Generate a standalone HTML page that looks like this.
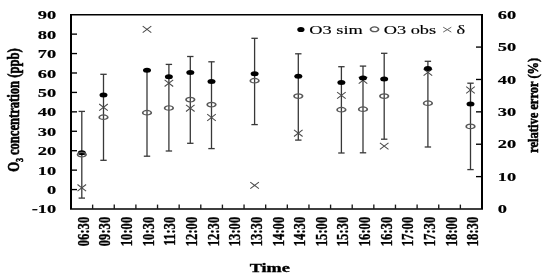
<!DOCTYPE html><html><head><meta charset="utf-8"><style>html,body{margin:0;padding:0;background:#fff;}svg{display:block;filter:blur(0.25px)}</style></head><body>
<svg width="550" height="280" viewBox="0 0 550 280">
<rect width="550" height="280" fill="#fff"/>
<path fill="#000" fill-rule="evenodd" d="M70 13.9H483V209.8H70Z M72 15.5V208.2H481V15.5Z"/>
<g stroke="#000" stroke-width="1.35" fill="none">
<line x1="71" y1="189.57" x2="77" y2="189.57"/>
<line x1="71" y1="170.14" x2="77" y2="170.14"/>
<line x1="71" y1="150.71" x2="77" y2="150.71"/>
<line x1="71" y1="131.28" x2="77" y2="131.28"/>
<line x1="71" y1="111.85" x2="77" y2="111.85"/>
<line x1="71" y1="92.42" x2="77" y2="92.42"/>
<line x1="71" y1="72.99" x2="77" y2="72.99"/>
<line x1="71" y1="53.56" x2="77" y2="53.56"/>
<line x1="71" y1="34.13" x2="77" y2="34.13"/>
<line x1="476" y1="176.62" x2="482" y2="176.62"/>
<line x1="476" y1="144.23" x2="482" y2="144.23"/>
<line x1="476" y1="111.85" x2="482" y2="111.85"/>
<line x1="476" y1="79.47" x2="482" y2="79.47"/>
<line x1="476" y1="47.08" x2="482" y2="47.08"/>
</g><g stroke="#1a1a1a" stroke-width="1.35" fill="none">
<line x1="92.63" y1="204.6" x2="92.63" y2="209"/>
<line x1="114.26" y1="204.6" x2="114.26" y2="209"/>
<line x1="135.89" y1="204.6" x2="135.89" y2="209"/>
<line x1="157.53" y1="204.6" x2="157.53" y2="209"/>
<line x1="179.16" y1="204.6" x2="179.16" y2="209"/>
<line x1="200.79" y1="204.6" x2="200.79" y2="209"/>
<line x1="222.42" y1="204.6" x2="222.42" y2="209"/>
<line x1="244.05" y1="204.6" x2="244.05" y2="209"/>
<line x1="265.68" y1="204.6" x2="265.68" y2="209"/>
<line x1="287.32" y1="204.6" x2="287.32" y2="209"/>
<line x1="308.95" y1="204.6" x2="308.95" y2="209"/>
<line x1="330.58" y1="204.6" x2="330.58" y2="209"/>
<line x1="352.21" y1="204.6" x2="352.21" y2="209"/>
<line x1="373.84" y1="204.6" x2="373.84" y2="209"/>
<line x1="395.47" y1="204.6" x2="395.47" y2="209"/>
<line x1="417.11" y1="204.6" x2="417.11" y2="209"/>
<line x1="438.74" y1="204.6" x2="438.74" y2="209"/>
<line x1="460.37" y1="204.6" x2="460.37" y2="209"/>
</g>
<g>
<g stroke="#383838" stroke-width="1.3"><line x1="81.8" y1="111.4" x2="81.8" y2="198.1"/><line x1="78.6" y1="111.4" x2="85" y2="111.4"/><line x1="78.6" y1="198.1" x2="85" y2="198.1"/></g>
<g stroke="#383838" stroke-width="1.3"><line x1="103.5" y1="74.3" x2="103.5" y2="160.3"/><line x1="100.3" y1="74.3" x2="106.7" y2="74.3"/><line x1="100.3" y1="160.3" x2="106.7" y2="160.3"/></g>
<g stroke="#383838" stroke-width="1.3"><line x1="147" y1="70.2" x2="147" y2="156.2"/><line x1="143.8" y1="70.2" x2="150.2" y2="70.2"/><line x1="143.8" y1="156.2" x2="150.2" y2="156.2"/></g>
<g stroke="#383838" stroke-width="1.3"><line x1="168.9" y1="64.4" x2="168.9" y2="151"/><line x1="165.7" y1="64.4" x2="172.1" y2="64.4"/><line x1="165.7" y1="151" x2="172.1" y2="151"/></g>
<g stroke="#383838" stroke-width="1.3"><line x1="190.3" y1="56.5" x2="190.3" y2="143.3"/><line x1="187.1" y1="56.5" x2="193.5" y2="56.5"/><line x1="187.1" y1="143.3" x2="193.5" y2="143.3"/></g>
<g stroke="#383838" stroke-width="1.3"><line x1="211.5" y1="61.8" x2="211.5" y2="148.6"/><line x1="208.3" y1="61.8" x2="214.7" y2="61.8"/><line x1="208.3" y1="148.6" x2="214.7" y2="148.6"/></g>
<g stroke="#383838" stroke-width="1.3"><line x1="254.6" y1="38.3" x2="254.6" y2="124.6"/><line x1="251.4" y1="38.3" x2="257.8" y2="38.3"/><line x1="251.4" y1="124.6" x2="257.8" y2="124.6"/></g>
<g stroke="#383838" stroke-width="1.3"><line x1="298.3" y1="53.8" x2="298.3" y2="140.1"/><line x1="295.1" y1="53.8" x2="301.5" y2="53.8"/><line x1="295.1" y1="140.1" x2="301.5" y2="140.1"/></g>
<g stroke="#383838" stroke-width="1.3"><line x1="341.4" y1="66.7" x2="341.4" y2="153"/><line x1="338.2" y1="66.7" x2="344.6" y2="66.7"/><line x1="338.2" y1="153" x2="344.6" y2="153"/></g>
<g stroke="#383838" stroke-width="1.3"><line x1="363" y1="66.1" x2="363" y2="152.8"/><line x1="359.8" y1="66.1" x2="366.2" y2="66.1"/><line x1="359.8" y1="152.8" x2="366.2" y2="152.8"/></g>
<g stroke="#383838" stroke-width="1.3"><line x1="384.2" y1="53.3" x2="384.2" y2="139.2"/><line x1="381" y1="53.3" x2="387.4" y2="53.3"/><line x1="381" y1="139.2" x2="387.4" y2="139.2"/></g>
<g stroke="#383838" stroke-width="1.3"><line x1="427.9" y1="61.3" x2="427.9" y2="147"/><line x1="424.7" y1="61.3" x2="431.1" y2="61.3"/><line x1="424.7" y1="147" x2="431.1" y2="147"/></g>
<g stroke="#383838" stroke-width="1.3"><line x1="470.5" y1="83.2" x2="470.5" y2="169.6"/><line x1="467.3" y1="83.2" x2="473.7" y2="83.2"/><line x1="467.3" y1="169.6" x2="473.7" y2="169.6"/></g>
<path d="M77.5 184.5L86.1 191.1M77.5 191.1L86.1 184.5" stroke="#4a4a4a" stroke-width="1.05" fill="none"/>
<path d="M99.2 104L107.8 110.6M99.2 110.6L107.8 104" stroke="#4a4a4a" stroke-width="1.05" fill="none"/>
<path d="M142.7 26.1L151.3 32.7M142.7 32.7L151.3 26.1" stroke="#4a4a4a" stroke-width="1.05" fill="none"/>
<path d="M164.6 79.9L173.2 86.5M164.6 86.5L173.2 79.9" stroke="#4a4a4a" stroke-width="1.05" fill="none"/>
<path d="M186 104.9L194.6 111.5M186 111.5L194.6 104.9" stroke="#4a4a4a" stroke-width="1.05" fill="none"/>
<path d="M207.2 114.2L215.8 120.8M207.2 120.8L215.8 114.2" stroke="#4a4a4a" stroke-width="1.05" fill="none"/>
<path d="M250.3 182.1L258.9 188.7M250.3 188.7L258.9 182.1" stroke="#4a4a4a" stroke-width="1.05" fill="none"/>
<path d="M294 129.9L302.6 136.5M294 136.5L302.6 129.9" stroke="#4a4a4a" stroke-width="1.05" fill="none"/>
<path d="M337.1 92.1L345.7 98.7M337.1 98.7L345.7 92.1" stroke="#4a4a4a" stroke-width="1.05" fill="none"/>
<path d="M358.7 77L367.3 83.6M358.7 83.6L367.3 77" stroke="#4a4a4a" stroke-width="1.05" fill="none"/>
<path d="M379.9 142.8L388.5 149.4M379.9 149.4L388.5 142.8" stroke="#4a4a4a" stroke-width="1.05" fill="none"/>
<path d="M423.6 69L432.2 75.6M423.6 75.6L432.2 69" stroke="#4a4a4a" stroke-width="1.05" fill="none"/>
<path d="M466.2 86.7L474.8 93.3M466.2 93.3L474.8 86.7" stroke="#4a4a4a" stroke-width="1.05" fill="none"/>
<ellipse cx="81.8" cy="152.8" rx="4.0" ry="2.5" fill="#000"/>
<ellipse cx="103.5" cy="95" rx="4.0" ry="2.5" fill="#000"/>
<ellipse cx="147" cy="70.35" rx="4.0" ry="2.5" fill="#000"/>
<ellipse cx="168.9" cy="76.7" rx="4.0" ry="2.5" fill="#000"/>
<ellipse cx="190.3" cy="72.4" rx="4.0" ry="2.5" fill="#000"/>
<ellipse cx="211.5" cy="81.5" rx="4.0" ry="2.5" fill="#000"/>
<ellipse cx="254.6" cy="73.8" rx="4.0" ry="2.5" fill="#000"/>
<ellipse cx="298.3" cy="76.2" rx="4.0" ry="2.5" fill="#000"/>
<ellipse cx="341.4" cy="82.6" rx="4.0" ry="2.5" fill="#000"/>
<ellipse cx="363" cy="78.1" rx="4.0" ry="2.5" fill="#000"/>
<ellipse cx="384.2" cy="79" rx="4.0" ry="2.5" fill="#000"/>
<ellipse cx="427.9" cy="68.4" rx="4.0" ry="2.5" fill="#000"/>
<ellipse cx="470.5" cy="103.9" rx="4.0" ry="2.5" fill="#000"/>
<ellipse transform="translate(81.8 154.6) scale(1.45 1)" rx="2.95" ry="2.25" fill="none" stroke="#585858" stroke-width="1.2"/>
<ellipse transform="translate(103.5 117.2) scale(1.45 1)" rx="2.95" ry="2.25" fill="none" stroke="#585858" stroke-width="1.2"/>
<ellipse transform="translate(147 112.7) scale(1.45 1)" rx="2.95" ry="2.25" fill="none" stroke="#585858" stroke-width="1.2"/>
<ellipse transform="translate(168.9 108) scale(1.45 1)" rx="2.95" ry="2.25" fill="none" stroke="#585858" stroke-width="1.2"/>
<ellipse transform="translate(190.3 99.6) scale(1.45 1)" rx="2.95" ry="2.25" fill="none" stroke="#585858" stroke-width="1.2"/>
<ellipse transform="translate(211.5 104.6) scale(1.45 1)" rx="2.95" ry="2.25" fill="none" stroke="#585858" stroke-width="1.2"/>
<ellipse transform="translate(254.6 80.7) scale(1.45 1)" rx="2.95" ry="2.25" fill="none" stroke="#585858" stroke-width="1.2"/>
<ellipse transform="translate(298.3 96.1) scale(1.45 1)" rx="2.95" ry="2.25" fill="none" stroke="#585858" stroke-width="1.2"/>
<ellipse transform="translate(341.4 109.7) scale(1.45 1)" rx="2.95" ry="2.25" fill="none" stroke="#585858" stroke-width="1.2"/>
<ellipse transform="translate(363 109.2) scale(1.45 1)" rx="2.95" ry="2.25" fill="none" stroke="#585858" stroke-width="1.2"/>
<ellipse transform="translate(384.2 96.1) scale(1.45 1)" rx="2.95" ry="2.25" fill="none" stroke="#585858" stroke-width="1.2"/>
<ellipse transform="translate(427.9 103.2) scale(1.45 1)" rx="2.95" ry="2.25" fill="none" stroke="#585858" stroke-width="1.2"/>
<ellipse transform="translate(470.5 126.4) scale(1.45 1)" rx="2.95" ry="2.25" fill="none" stroke="#585858" stroke-width="1.2"/>
</g>
<g font-family="Liberation Serif, serif" font-weight="bold" font-size="12.3" fill="#000" stroke="#000" stroke-width="0.15" text-anchor="end">
<text transform="translate(56.2 19.4) scale(1.5 1)">90</text>
<text transform="translate(56.2 38.79) scale(1.5 1)">80</text>
<text transform="translate(56.2 58.18) scale(1.5 1)">70</text>
<text transform="translate(56.2 77.57) scale(1.5 1)">60</text>
<text transform="translate(56.2 96.96) scale(1.5 1)">50</text>
<text transform="translate(56.2 116.35) scale(1.5 1)">40</text>
<text transform="translate(56.2 135.74) scale(1.5 1)">30</text>
<text transform="translate(56.2 155.13) scale(1.5 1)">20</text>
<text transform="translate(56.2 174.52) scale(1.5 1)">10</text>
<text transform="translate(56.2 193.91) scale(1.5 1)">0</text>
<text transform="translate(56.2 213.3) scale(1.5 1)">-10</text>
</g>
<g font-family="Liberation Serif, serif" font-weight="bold" font-size="12.3" fill="#000" stroke="#000" stroke-width="0.15" text-anchor="start">
<text transform="translate(497.8 18.9) scale(1.5 1)">60</text>
<text transform="translate(497.8 51.28) scale(1.5 1)">50</text>
<text transform="translate(497.8 83.67) scale(1.5 1)">40</text>
<text transform="translate(497.8 116.05) scale(1.5 1)">30</text>
<text transform="translate(497.8 148.43) scale(1.5 1)">20</text>
<text transform="translate(497.8 180.82) scale(1.5 1)">10</text>
<text transform="translate(497.8 213.2) scale(1.5 1)">0</text>
</g>
<g font-family="Liberation Serif, serif" font-weight="bold" font-size="12.6" fill="#000" stroke="#000" stroke-width="0.3" text-anchor="end">
<text transform="translate(88.82 216.8) rotate(-90) scale(1 1.3)">06:30</text>
<text transform="translate(110.45 216.8) rotate(-90) scale(1 1.3)">09:30</text>
<text transform="translate(132.08 216.8) rotate(-90) scale(1 1.3)">10:00</text>
<text transform="translate(153.71 216.8) rotate(-90) scale(1 1.3)">10:30</text>
<text transform="translate(175.34 216.8) rotate(-90) scale(1 1.3)">11:30</text>
<text transform="translate(196.97 216.8) rotate(-90) scale(1 1.3)">12:00</text>
<text transform="translate(218.61 216.8) rotate(-90) scale(1 1.3)">12:30</text>
<text transform="translate(240.24 216.8) rotate(-90) scale(1 1.3)">13:00</text>
<text transform="translate(261.87 216.8) rotate(-90) scale(1 1.3)">13:30</text>
<text transform="translate(283.5 216.8) rotate(-90) scale(1 1.3)">14:00</text>
<text transform="translate(305.13 216.8) rotate(-90) scale(1 1.3)">14:30</text>
<text transform="translate(326.76 216.8) rotate(-90) scale(1 1.3)">15:00</text>
<text transform="translate(348.39 216.8) rotate(-90) scale(1 1.3)">15:30</text>
<text transform="translate(370.03 216.8) rotate(-90) scale(1 1.3)">16:00</text>
<text transform="translate(391.66 216.8) rotate(-90) scale(1 1.3)">16:30</text>
<text transform="translate(413.29 216.8) rotate(-90) scale(1 1.3)">17:00</text>
<text transform="translate(434.92 216.8) rotate(-90) scale(1 1.3)">17:30</text>
<text transform="translate(456.55 216.8) rotate(-90) scale(1 1.3)">18:00</text>
<text transform="translate(478.18 216.8) rotate(-90) scale(1 1.3)">18:30</text>
</g>
<text font-family="Liberation Serif, serif" font-weight="bold" font-size="12.0" stroke="#000" stroke-width="0.3" text-anchor="middle" transform="translate(269.8 271.8) scale(1.52 1)">Time</text>
<text font-family="Liberation Serif, serif" font-weight="bold" font-size="12.6" stroke="#000" stroke-width="0.5" text-anchor="middle" transform="translate(18.6 110) rotate(-90) scale(1 1.3)">O<tspan font-size="7.31" dy="3.0">3</tspan><tspan dy="-3.0"> concentration (ppb)</tspan></text>
<text font-family="Liberation Serif, serif" font-weight="bold" font-size="12.5" stroke="#000" stroke-width="0.45" text-anchor="middle" transform="translate(537.5 105.3) rotate(-90) scale(1 1.2)">relative error (%)</text>
<ellipse cx="300.9" cy="29.5" rx="3.6" ry="2.6" fill="#000"/>
<text font-family="Liberation Serif, serif" stroke="#000" stroke-width="0.15" font-size="13.0" transform="translate(309.3 33.5) scale(1.41 1)">O3 sim</text>
<ellipse transform="translate(374.5 29.3) scale(1.45 1)" rx="2.75" ry="2.35" fill="none" stroke="#585858" stroke-width="1.25"/>
<text font-family="Liberation Serif, serif" stroke="#000" stroke-width="0.15" font-size="13.0" transform="translate(383.7 33.5) scale(1.41 1)">O3 obs</text>
<path d="M443.2 27.2L451.3 32.1M443.2 32.1L451.3 27.2" stroke="#666" stroke-width="1.0" fill="none"/>
<text font-family="Liberation Serif, serif" stroke="#000" stroke-width="0.15" font-size="13.0" transform="translate(456.5 33.5) scale(1.41 1)">δ</text>
</svg></body></html>
